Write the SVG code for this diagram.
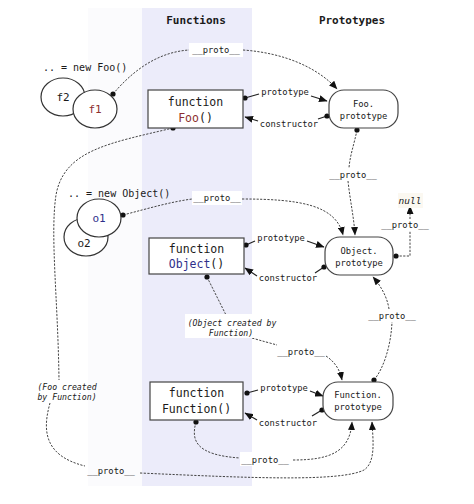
<svg xmlns="http://www.w3.org/2000/svg" width="474" height="504" viewBox="0 0 474 504">
<style>
.mono{font-family:"DejaVu Sans Mono","Liberation Mono",monospace;fill:#1a1a1a}
.head{font-size:11px;font-weight:bold;text-anchor:middle}
.box{fill:#fff;stroke:#444;stroke-width:1.2}
.btxt{font-size:11.5px;text-anchor:middle}
.ptxt{font-size:8.8px;text-anchor:middle}
.lbl{font-size:8.8px;text-anchor:middle}
.it{font-style:italic;font-size:8.2px;text-anchor:middle}
.ell{fill:#fff;stroke:#333;stroke-width:1.2}
.dash{fill:none;stroke:#444;stroke-width:1;stroke-dasharray:2.2 1.4}
.sol{fill:none;stroke:#222;stroke-width:1.2}
.bg{fill:#fff}
.red{fill:#8e2f2f}
.blue{fill:#2f2f8a}
</style>
<defs>
<marker id="arr" markerUnits="userSpaceOnUse" markerWidth="9" markerHeight="7" refX="8" refY="3.5" orient="auto">
<path d="M0,0 L8.5,3.5 L0,7 z" fill="#111"/>
</marker>
<marker id="dot" markerUnits="userSpaceOnUse" markerWidth="7" markerHeight="7" refX="3.5" refY="3.5">
<circle cx="3.5" cy="3.5" r="2.6" fill="#111"/>
</marker>
</defs>
<rect width="474" height="504" fill="#fff"/>
<rect x="88" y="8" width="54" height="478" fill="#fbfbfd"/>
<rect x="142" y="8" width="110" height="478" fill="#ececfa"/>
<text class="mono head" x="196" y="24">Functions</text>
<text class="mono head" x="352" y="24">Prototypes</text>

<g id="connectors">
<path class="dash" marker-start="url(#dot)" d="M113,94 C135,68 160,52 189,50"/>
<path class="dash" marker-end="url(#arr)" d="M243,50 C285,53 318,68 337,89"/>
<path class="sol" marker-start="url(#dot)" d="M245,98 L259,94"/>
<path class="sol" marker-end="url(#arr)" d="M311,96 L327,101"/>
<path class="sol" marker-start="url(#dot)" d="M327,116 L318,119"/>
<path class="sol" marker-end="url(#arr)" d="M258,121 L245,117"/>
<path class="dash" marker-start="url(#dot)" d="M357,130 C354,145 350,155 349,168"/>
<path class="dash" marker-end="url(#arr)" d="M348,181 C350,200 354,218 355,235"/>
<path class="dash" marker-start="url(#dot)" d="M396,256 L410,256 L410,231"/>
<path class="dash" marker-end="url(#arr)" d="M410,219 L410,206"/>
<path class="dash" marker-start="url(#dot)" d="M123,215 C150,208 170,202 192,199"/>
<path class="dash" marker-end="url(#arr)" d="M242,199 C300,199 336,205 343,235"/>
<path class="sol" marker-start="url(#dot)" d="M246,245 L255,241"/>
<path class="sol" marker-end="url(#arr)" d="M307,241 L324,247"/>
<path class="sol" marker-start="url(#dot)" d="M324,267 L315,273"/>
<path class="sol" marker-end="url(#arr)" d="M257,276 L245,268"/>
<path class="dash" marker-start="url(#dot)" d="M207,277 L226,315"/>
<path class="dash" d="M252,338 C262,341 270,343 277,345"/>
<path class="dash" marker-end="url(#arr)" d="M326,356 C335,362 340,370 342,380"/>
<path class="dash" marker-start="url(#dot)" d="M374,380 C384,368 391,345 392,322"/>
<path class="dash" marker-end="url(#arr)" d="M389,309 C387,296 380,285 373,277"/>
<path class="sol" marker-start="url(#dot)" d="M247,393 L258,390"/>
<path class="sol" marker-end="url(#arr)" d="M310,391 L323,396"/>
<path class="sol" marker-start="url(#dot)" d="M322,410 L312,416"/>
<path class="sol" marker-end="url(#arr)" d="M257,420 L245,413"/>
<path class="dash" marker-start="url(#dot)" d="M196,422 C191,440 195,455 240,458"/>
<path class="dash" marker-end="url(#arr)" d="M293,460 C330,460 350,452 352,422"/>
<path class="dash" marker-start="url(#dot)" d="M173,128 C110,143 64,150 56,195 C50,235 58,300 59,380"/>
<path class="dash" d="M50,403 C44,425 40,455 85,466"/>
<path class="dash" marker-end="url(#arr)" d="M140,473 C250,478 340,482 364,470 C376,462 373,440 372,422"/>
</g>

<g id="labels">
<rect class="bg" x="189" y="43" width="54" height="14"/>
<text class="mono lbl" x="216" y="53">__proto__</text>
<text class="mono lbl" x="285" y="95">prototype</text>
<text class="mono lbl" x="289" y="127">constructor</text>
<text class="mono lbl" x="353" y="178">__proto__</text>
<rect x="398" y="193" width="25" height="15" fill="#fbf8f1"/>
<text class="mono" x="410" y="204" style="font-size:9.5px;font-style:italic;text-anchor:middle">null</text>
<rect class="bg" x="382" y="219" width="47" height="12"/>
<text class="mono lbl" x="405" y="228">__proto__</text>
<rect class="bg" x="192" y="191" width="50" height="14"/>
<text class="mono lbl" x="217" y="201">__proto__</text>
<text class="mono lbl" x="281" y="241">prototype</text>
<text class="mono lbl" x="288" y="281">constructor</text>
<rect class="bg" x="185" y="314" width="95" height="24"/>
<text class="mono it" x="232" y="326">(Object created by</text>
<text class="mono it" x="231" y="336">Function)</text>
<text class="mono lbl" x="301" y="355">__proto__</text>
<text class="mono lbl" x="392" y="319">__proto__</text>
<text class="mono lbl" x="284" y="391">prototype</text>
<text class="mono lbl" x="288" y="426">constructor</text>
<rect class="bg" x="240" y="452" width="52" height="14"/>
<text class="mono lbl" x="265" y="463">__proto__</text>
<text class="mono it" x="67" y="390">(Foo created</text>
<text class="mono it" x="67" y="400">by Function)</text>
<text class="mono lbl" x="111" y="474">__proto__</text>
</g>

<g id="f-instances">
<text class="mono" x="43" y="71" style="font-size:10px">.. = new Foo()</text>
<ellipse class="ell" cx="63" cy="97" rx="22" ry="19"/>
<text class="mono" x="63" y="101" style="font-size:11px;text-anchor:middle">f2</text>
<ellipse class="ell" cx="95" cy="109" rx="22" ry="19"/>
<text class="mono red" x="95" y="113" style="font-size:11px;text-anchor:middle">f1</text>
</g>

<g id="o-instances">
<text class="mono" x="68" y="197" style="font-size:10px">.. = new Object()</text>
<ellipse class="ell" cx="86" cy="237" rx="22" ry="19"/>
<text class="mono" x="84" y="247" style="font-size:11px;text-anchor:middle">o2</text>
<ellipse class="ell" cx="99" cy="218" rx="22" ry="19"/>
<text class="mono blue" x="99" y="222" style="font-size:11px;text-anchor:middle">o1</text>
</g>

<g id="fn-foo">
<rect class="box" x="148" y="90" width="95" height="38"/>
<text class="mono btxt" x="195.5" y="106">function</text>
<text class="mono btxt" x="195.5" y="122"><tspan class="red">Foo</tspan>()</text>
</g>
<g id="fn-object">
<rect class="box" x="149" y="238" width="95" height="36"/>
<text class="mono btxt" x="196.5" y="253">function</text>
<text class="mono btxt" x="196.5" y="268"><tspan class="blue">Object</tspan>()</text>
</g>
<g id="fn-function">
<rect class="box" x="150" y="382" width="93" height="38"/>
<text class="mono btxt" x="196.5" y="397">function</text>
<text class="mono btxt" x="196.5" y="413">Function()</text>
</g>

<g id="foo-prototype">
<rect class="box" x="329" y="90" width="69" height="38" rx="15"/>
<text class="mono ptxt" x="363.5" y="107">Foo.</text>
<text class="mono ptxt" x="363.5" y="119">prototype</text>
</g>
<g id="object-prototype">
<rect class="box" x="325" y="237" width="68" height="38" rx="15"/>
<text class="mono ptxt" x="359" y="254">Object.</text>
<text class="mono ptxt" x="359" y="266">prototype</text>
</g>
<g id="function-prototype">
<rect class="box" x="323" y="382" width="70" height="38" rx="15"/>
<text class="mono ptxt" x="358" y="398">Function.</text>
<text class="mono ptxt" x="358" y="410">prototype</text>
</g>
</svg>
